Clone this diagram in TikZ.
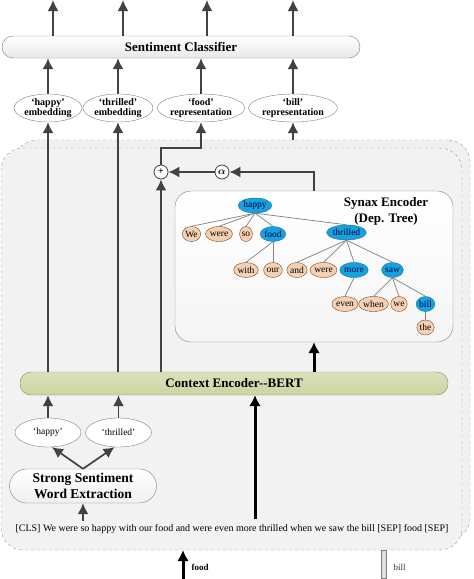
\documentclass[tikz,border=0pt]{standalone}
\usepackage{amsmath}
\usepackage{fontspec}
\setmainfont{Liberation Serif}
\usetikzlibrary{shapes.geometric,arrows.meta}
\definecolor{treeblue}{RGB}{22,162,222}
\definecolor{treetan}{RGB}{246,208,178}
\definecolor{bertgreen}{RGB}{204,212,160}
\definecolor{linegray}{RGB}{66,66,66}
\tikzset{
  arr/.style={draw=linegray,line width=1.7pt,-{Latex[length=11pt,width=11pt]}},
  bigarr/.style={draw=black,line width=3pt,-{Latex[length=11pt,width=12pt]}},
  panel/.style={rectangle,draw=gray!80,dashed,rounded corners=22pt,inner sep=0pt},
  barbox/.style={rectangle,draw=gray,rounded corners=11pt,inner sep=0pt,font=\fontsize{13}{14}\selectfont\bfseries},
  embnode/.style={ellipse,draw=gray,fill=white,align=center,inner sep=0pt,minimum height=28pt,font=\fontsize{10}{10.5}\selectfont\bfseries},
  kwnode/.style={ellipse,draw=gray,fill=white,inner sep=0pt,minimum width=66pt,minimum height=29pt,font=\fontsize{9.5}{10}\selectfont},
  opnode/.style={circle,draw=linegray,line width=0.8pt,fill=white,inner sep=0pt,minimum size=14pt,font=\fontsize{10}{10}\selectfont\bfseries},
  wordnode/.style={ellipse,draw=brown!60!black,fill=treetan,inner xsep=0.3pt,inner ysep=0pt,minimum height=15pt,font=\fontsize{9.5}{9.5}\selectfont},
  keynode/.style={wordnode,draw=treeblue!70!black,fill=treeblue,text=blue!25!black},
  treeedge/.style={draw=gray,line width=0.7pt}
}
\begin{document}
\begin{tikzpicture}[x=1pt,y=-1pt]
\useasboundingbox (0,0) rectangle (474,579);
% stacked panels
\node[panel,fill=gray!12,minimum width=455pt,minimum height=400pt] (backbox) at (242.5,340) {};
\node[panel,fill=gray!10,minimum width=461pt,minimum height=402pt] (frontbox) at (231.5,349) {};
% classifier and outputs
\node[barbox,top color=white,bottom color=gray!18,minimum width=358pt,minimum height=22pt] (classifier) at (181,47) {Sentiment Classifier};
\foreach \x/\n in {53/1,123/2,207/3,293/4}
  \coordinate (out\n) at (\x,0);
\foreach \n in {1,...,4}
  \draw[arr] (out\n |- classifier.north) -- (out\n);
\node[embnode,minimum width=68pt] (embhappy) at (48,108) {`happy'\\embedding};
\node[embnode,minimum width=70pt] (embthrilled) at (118,108) {`thrilled'\\embedding};
\node[embnode,minimum width=78pt] (repfood) at (201,108) {`food'\\representation};
\node[embnode,minimum width=89pt] (repbill) at (293,108) {`bill'\\representation};
\foreach \n in {embhappy,embthrilled,repfood,repbill}
  \draw[arr] (\n.north) -- (\n |- classifier.south);
% context encoder
\node[barbox,top color=bertgreen!70,bottom color=bertgreen,draw=gray!70!olive,minimum width=428pt,minimum height=23pt] (bert) at (234,383.5) {Context Encoder-{}-BERT};
\draw[arr] (embhappy |- bert.north) -- (embhappy.south);
\draw[arr] (embthrilled |- bert.north) -- (embthrilled.south);
% syntax encoder
\node[rectangle,draw=gray,rounded corners=16pt,top color=white,bottom color=gray!8,minimum width=278pt,minimum height=151pt,inner sep=0pt] (synax) at (314,266.5) {};
\node[align=center,font=\fontsize{13}{16}\selectfont\bfseries] (synaxlbl) at (386,211) {Synax Encoder\\(Dep. Tree)};
\node[opnode] (plus) at (161,172) {+};
\node[opnode] (alpha) at (222,172) {$\boldsymbol{\alpha}$};
\draw[arr] (synax.north) |- (alpha.east);
\draw[arr] (alpha.west) -- (plus.east);
\draw[arr] (plus |- bert.north) -- (plus.south);
\draw[arr] (plus.north) |- (repfood |- frontbox.north) -- (repfood.south);
\draw[arr] (repbill |- backbox.north) -- (repbill.south);
\draw[bigarr] (bert.north -| synax) -- (synax.south);
% dependency tree
\node[keynode] (happy) at (255,205.5) {happy};
\node[wordnode] (We) at (191.5,234) {We};
\node[wordnode] (were) at (219,234) {were};
\node[wordnode] (so) at (246,234) {so};
\node[keynode] (food) at (273,234) {food};
\node[keynode] (thrilled) at (346.5,232.5) {thrilled};
\node[wordnode] (with) at (246,270) {with};
\node[wordnode] (our) at (273,270) {our};
\node[wordnode] (and) at (297,270) {and};
\node[wordnode] (wereb) at (323.5,270) {were};
\node[keynode] (more) at (354,270) {more};
\node[keynode] (saw) at (392.5,270) {saw};
\node[wordnode] (even) at (345,304) {even};
\node[wordnode] (when) at (373.5,304) {when};
\node[wordnode] (we) at (399,304) {we};
\node[keynode] (bill) at (425.5,304) {bill};
\node[wordnode] (the) at (425.5,327.5) {the};
\foreach \a/\b in {happy/We,happy/were,happy/so,happy/food,happy/thrilled,food/with,food/our,thrilled/and,thrilled/wereb,thrilled/more,thrilled/saw,more/even,saw/when,saw/we,saw/bill,bill/the}
  \draw[treeedge] (\a.south) -- (\b.north);
% keyword extraction
\node[font=\fontsize{10}{12}\selectfont] (sentence) at (232,529) {[CLS] We were so happy with our food and were even more thrilled when we saw the bill [SEP] food [SEP]};
\node[rectangle,draw=gray,rounded corners=17pt,top color=white,bottom color=gray!12,minimum width=147pt,minimum height=34pt,inner sep=0pt,align=center,font=\fontsize{13.5}{16}\selectfont\bfseries] (extract) at (83,486) {Strong Sentiment\\Word Extraction};
\node[kwnode] (kwhappy) at (48,432.5) {`happy'};
\node[kwnode] (kwthrilled) at (118.5,432.5) {`thrilled'};
\draw[arr] (extract.north) -- (kwhappy.-75);
\draw[arr] (extract.north) -- (kwthrilled.-105);
\draw[arr] (sentence.north -| extract) -- (extract.south);
\draw[arr] (kwhappy.north) -- (kwhappy |- bert.south);
\draw[arr] (kwthrilled.north) -- (kwthrilled |- bert.south);
\coordinate (sentin) at (255,519);
\draw[bigarr] (sentin) -- (sentin |- bert.south);
% aspect inputs
\coordinate (foodin) at (183,579);
\draw[bigarr] (foodin) -- (foodin |- frontbox.south);
\node[anchor=west,font=\fontsize{9}{10}\selectfont\bfseries] (foodlbl) at (188,567) {food};
\node[rectangle,draw=gray,fill=gray!25,minimum width=5pt,minimum height=28pt,inner sep=0pt] (billbar) at (384,564) {};
\node[anchor=west,font=\fontsize{9}{10}\selectfont,text=black!80] (billlbl) at (390,567) {bill};
\end{tikzpicture}
\end{document}
